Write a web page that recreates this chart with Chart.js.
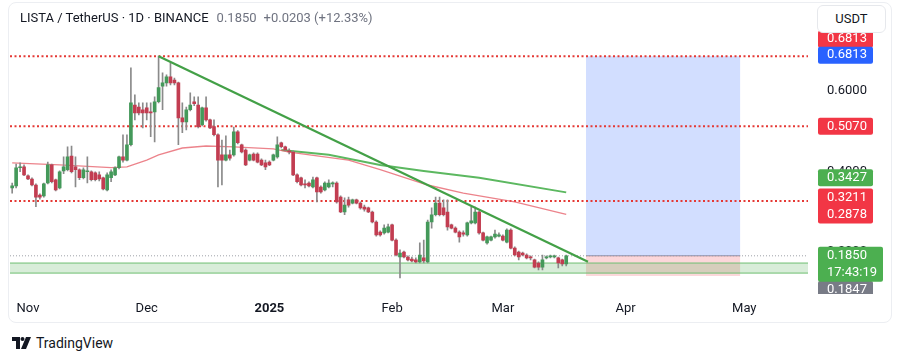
<!DOCTYPE html>
<html>
<head>
<meta charset="utf-8">
<script src="https://cdn.jsdelivr.net/npm/chart.js"></script>
<style>
  html, body { margin: 0; padding: 0; background: #fff; }
  body { width: 900px; height: 362px; position: relative; overflow: hidden; font-family: Roboto, 'Noto Sans', sans-serif; }
  #frame { position: absolute; left: 8px; top: 2px; width: 882px; height: 319px; border: 1px solid #eceef2; border-radius: 8px; }
  /* canvas sits a little higher: Chart.js keeps ~22px free above the plot */
  #wrap { position: absolute; left: 0; top: -22px; width: 900px; height: 347px; }
  #title { position: absolute; left: 20px; top: 10px; font-size: 13px; line-height: 16px; color: #131722; white-space: nowrap; }
  #title .num { color: #6f7380; margin-left: 7px; }
  #unit { position: absolute; left: 817px; top: 5px; width: 69px; height: 28px; box-sizing: border-box; border: 1px solid #e6e8ec; border-radius: 6px; background: #fff; font-size: 13px; color: #131722; text-align: center; line-height: 26px; }
  #brand { position: absolute; left: 12px; top: 335px; font-size: 14px; color: #131722; display: flex; align-items: center; }
  #brand svg { margin-right: 4px; }
</style>
</head>
<body>
<div id="frame"></div>
<div id="wrap"><canvas id="chart" width="900" height="347"></canvas></div>
<div id="title">LISTA / TetherUS · 1D · BINANCE<span class="num" style="margin-left:8px">0.1850</span><span class="num">+0.0203 (+12.33%)</span></div>
<div id="unit">USDT</div>
<div id="brand">
  <svg width="20" height="13" viewBox="0 0 20 13"><path d="M0 0h8v12h-4v-8h-4z" fill="#131722"/><circle cx="10.5" cy="2" r="2" fill="#131722"/><path d="M14 0h5l-5 12h-5z" fill="#131722"/></svg>
  TradingView
</div>
<script>
// daily candles, first one on 28 Oct 2024; x is days counted from 1 Nov 2024
const startDay = -4;
const opens = [
  0.354,0.359,0.404,0.406,0.384,0.376,0.361,0.336,0.334,0.366,
  0.411,0.374,0.354,0.396,0.399,0.433,0.406,0.399,0.379,0.394,
  0.394,0.391,0.386,0.379,0.349,0.379,0.386,0.404,0.431,0.423,
  0.461,0.560,0.555,0.548,0.553,0.543,0.543,0.568,0.607,0.615,
  0.630,0.622,0.615,0.528,0.518,0.548,0.568,0.560,0.511,0.553,
  0.523,0.506,0.486,0.436,0.423,0.436,0.436,0.493,0.461,0.448,
  0.423,0.438,0.438,0.423,0.416,0.418,0.423,0.431,0.466,0.456,
  0.446,0.443,0.386,0.379,0.364,0.366,0.356,0.379,0.356,0.349,
  0.356,0.364,0.366,0.331,0.294,0.324,0.316,0.324,0.316,0.306,
  0.304,0.294,0.269,0.244,0.242,0.244,0.262,0.224,0.182,0.194,
  0.182,0.177,0.175,0.170,0.180,0.170,0.269,0.287,0.316,0.304,
  0.294,0.262,0.254,0.244,0.242,0.237,0.267,0.267,0.294,0.242,
  0.217,0.224,0.232,0.234,0.234,0.219,0.249,0.204,0.194,0.192,
  0.187,0.182,0.175,0.167,0.157,0.180,0.182,0.182,0.180,0.175,0.165
];
const closes = [
  0.359,0.404,0.406,0.386,0.376,0.361,0.331,0.331,0.364,0.411,
  0.369,0.349,0.394,0.406,0.431,0.394,0.399,0.379,0.399,0.396,
  0.374,0.374,0.376,0.351,0.386,0.394,0.404,0.431,0.423,0.461,
  0.565,0.540,0.540,0.540,0.540,0.540,0.568,0.603,0.615,0.630,
  0.615,0.615,0.528,0.518,0.548,0.560,0.563,0.506,0.553,0.523,
  0.503,0.486,0.423,0.423,0.436,0.428,0.493,0.466,0.443,0.411,
  0.436,0.423,0.418,0.411,0.406,0.411,0.436,0.461,0.456,0.448,
  0.443,0.386,0.369,0.361,0.361,0.359,0.374,0.344,0.344,0.366,
  0.366,0.366,0.319,0.294,0.311,0.311,0.324,0.316,0.304,0.301,
  0.294,0.269,0.237,0.237,0.254,0.257,0.224,0.187,0.192,0.182,
  0.175,0.172,0.170,0.187,0.172,0.269,0.287,0.316,0.287,0.287,
  0.257,0.254,0.244,0.232,0.239,0.267,0.272,0.294,0.242,0.224,
  0.232,0.232,0.239,0.237,0.224,0.249,0.204,0.187,0.182,0.187,
  0.180,0.180,0.157,0.157,0.175,0.182,0.185,0.185,0.167,0.165,0.185
];
const highs = [
  0.366,0.413,0.416,0.411,0.386,0.379,0.364,0.339,0.366,0.418,
  0.413,0.376,0.396,0.431,0.456,0.458,0.431,0.401,0.404,0.431,
  0.396,0.394,0.394,0.381,0.391,0.399,0.406,0.433,0.486,0.486,
  0.652,0.585,0.565,0.565,0.565,0.565,0.580,0.6813,0.640,0.635,
  0.665,0.627,0.617,0.565,0.555,0.590,0.580,0.580,0.555,0.580,
  0.525,0.523,0.488,0.473,0.483,0.448,0.505,0.496,0.463,0.451,
  0.438,0.441,0.441,0.426,0.423,0.421,0.438,0.481,0.468,0.458,
  0.451,0.446,0.389,0.381,0.374,0.369,0.381,0.381,0.359,0.369,
  0.374,0.369,0.369,0.334,0.329,0.331,0.326,0.326,0.319,0.311,
  0.306,0.296,0.272,0.247,0.262,0.264,0.264,0.227,0.200,0.197,
  0.185,0.182,0.180,0.217,0.224,0.274,0.304,0.331,0.331,0.324,
  0.324,0.264,0.257,0.247,0.247,0.269,0.306,0.306,0.296,0.244,
  0.234,0.234,0.249,0.242,0.237,0.252,0.252,0.207,0.197,0.194,
  0.190,0.185,0.177,0.170,0.187,0.185,0.187,0.187,0.182,0.177,0.187
];
const lows = [
  0.341,0.354,0.394,0.384,0.374,0.359,0.307,0.326,0.331,0.364,
  0.366,0.346,0.351,0.389,0.396,0.391,0.356,0.374,0.376,0.366,
  0.371,0.371,0.371,0.349,0.346,0.369,0.384,0.401,0.418,0.421,
  0.458,0.523,0.535,0.503,0.523,0.481,0.468,0.565,0.548,0.607,
  0.610,0.610,0.461,0.491,0.498,0.545,0.558,0.503,0.508,0.520,
  0.501,0.483,0.356,0.361,0.421,0.423,0.433,0.463,0.441,0.409,
  0.421,0.421,0.416,0.409,0.399,0.409,0.421,0.428,0.453,0.446,
  0.438,0.384,0.366,0.359,0.354,0.356,0.354,0.319,0.341,0.346,
  0.354,0.356,0.316,0.292,0.287,0.306,0.314,0.314,0.301,0.296,
  0.292,0.267,0.234,0.234,0.239,0.242,0.222,0.185,0.130,0.180,
  0.172,0.170,0.167,0.167,0.167,0.167,0.254,0.284,0.284,0.284,
  0.249,0.252,0.242,0.219,0.234,0.234,0.264,0.264,0.239,0.222,
  0.214,0.222,0.229,0.232,0.222,0.217,0.202,0.185,0.175,0.185,
  0.177,0.175,0.155,0.150,0.150,0.177,0.180,0.180,0.155,0.160,0.160
];

// moving averages, read at a few days
const redMaDays   = [-4, 8, 21, 25, 30, 33, 39, 45, 52, 62, 66, 81, 89, 101, 110, 123, 136];
const redMaValues = [0.416, 0.411, 0.404, 0.406, 0.423, 0.436, 0.453, 0.458, 0.456, 0.451, 0.443, 0.423, 0.399, 0.361, 0.341, 0.319, 0.2878];
const greenMaDays   = [64, 76, 89, 100, 114, 136];
const greenMaValues = [0.448, 0.436, 0.411, 0.396, 0.379, 0.3427];

// drawings
const levels = [0.6813, 0.5070, 0.3211];
const lastPrice = 0.1850;
const trendDays = [33, 141.5];
const trendValues = [0.6813, 0.170];
const supportZone = [0.142, 0.167];
const positionDays = [141, 180];
const target = 0.6813, entry = 0.1850, stop = 0.135;

// axes
const monthDays = [0, 30, 61, 92, 120, 151, 181];
const monthLabels = ['Nov', 'Dec', '2025', 'Feb', 'Mar', 'Apr', 'May'];
const yTicks = [0.2, 0.4, 0.6];
const xMin = -4.55, xMax = 197.1;
const yMin = 0.0801, yMax = 0.809;

const UP = '#44995a', DOWN = '#c23d51', WICK = '#8a8a8a';
const RED = '#f23645';

const priceTags = [
  { value: 0.6813, lines: ['0.6813'], color: RED, shift: -17 },
  { value: 0.6813, lines: ['0.6813'], color: '#2962ff', shift: -1 },
  { value: 0.5070, lines: ['0.5070'], color: RED, shift: 0 },
  { value: 0.3427, lines: ['0.3427'], color: '#4caf50', shift: -14.5 },
  { value: 0.3211, lines: ['0.3211', '0.2878'], color: RED, shift: 5 },
  { value: 0.1847, lines: ['0.1847'], color: '#787b86', shift: 33.5 },
  { value: 0.1850, lines: ['0.1850', '17:43:19'], color: '#4caf50', shift: 8.5, wide: true }
];

const candleX = i => startDay + i;
const hline = (v) => [{ x: xMin, y: v }, { x: xMax, y: v }];
const lineDs = (data, color, width, order, extra) => Object.assign({
  type: 'line', data, borderColor: color, borderWidth: width, pointRadius: 0,
  tension: 0, fill: false, order
}, extra || {});

const tagPlugin = {
  id: 'tags',
  afterDraw(chart) {
    const ctx = chart.ctx;
    const y = chart.scales.y;
    const area = chart.chartArea;
    ctx.save();
    ctx.beginPath();
    ctx.rect(area.right + 2, 0, 90, area.bottom - 4);
    ctx.clip();
    ctx.font = '13px Roboto, sans-serif';
    ctx.textBaseline = 'middle';
    priceTags.forEach(t => {
      const cy = y.getPixelForValue(t.value) + t.shift;
      const h = t.lines.length === 1 ? 17 : 35;
      const w = t.wide ? 65 : 55;
      ctx.fillStyle = t.color;
      ctx.beginPath();
      ctx.roundRect(area.right + 10, cy - h / 2, w, h, 2);
      ctx.fill();
      ctx.fillStyle = '#fff';
      t.lines.forEach((s, k) => {
        const ly = t.lines.length === 1 ? cy : cy - 8.5 + k * 17;
        ctx.fillText(s, area.right + 19, ly);
      });
    });
    ctx.restore();
  }
};

new Chart(document.getElementById('chart'), {
  type: 'bar',
  data: {
    datasets: [
      // trend line
      lineDs(trendDays.map((d, i) => ({ x: d, y: trendValues[i] })), '#43a047', 2.2, 1),
      // candle bodies
      {
        type: 'bar', order: 2, grouped: false, barThickness: 3, minBarLength: 1,
        data: opens.map((o, i) => ({ x: candleX(i), y: [o, closes[i]] })),
        backgroundColor: c => closes[c.dataIndex] >= opens[c.dataIndex] ? UP : DOWN
      },
      // wicks
      {
        type: 'bar', order: 3, grouped: false, barThickness: 1,
        data: lows.map((l, i) => ({ x: candleX(i), y: [l, highs[i]] })),
        backgroundColor: WICK
      },
      // moving averages
      lineDs(redMaDays.map((d, i) => ({ x: d, y: redMaValues[i] })), 'rgba(229,90,100,0.75)', 1.3, 4),
      lineDs(greenMaDays.map((d, i) => ({ x: d, y: greenMaValues[i] })), '#5cb860', 2, 4),
      // horizontal levels
      ...levels.map(v => lineDs(hline(v), '#e53935', 2, 6, { borderDash: [2, 2.5] })),
      lineDs(hline(lastPrice), '#9ea1a9', 1, 6, { borderDash: [1, 2] }),
      // support zone
      lineDs(hline(supportZone[1]), '#6fbf73', 1, 7, { fill: { value: supportZone[0] }, backgroundColor: 'rgba(76,175,80,0.22)' }),
      lineDs(hline(supportZone[0]), '#6fbf73', 1, 7),
      // long position box
      lineDs(positionDays.map(d => ({ x: d, y: target })), 'rgba(0,0,0,0)', 0, 8, { fill: { value: entry }, backgroundColor: 'rgba(41,98,255,0.21)' }),
      lineDs(positionDays.map(d => ({ x: d, y: stop })), 'rgba(0,0,0,0)', 0, 8, { fill: { value: entry }, backgroundColor: 'rgba(242,54,69,0.2)' }),
      lineDs(positionDays.map(d => ({ x: d, y: entry })), '#9598a1', 1, 8)
    ]
  },
  options: {
    responsive: false,
    animation: false,
    devicePixelRatio: 1,
    layout: { autoPadding: false, padding: { left: 10, right: 10, top: 5, bottom: 0 } },
    plugins: { legend: { display: false }, tooltip: { enabled: false } },
    scales: {
      x: {
        type: 'linear', min: xMin, max: xMax, offset: false,
        grid: { display: false, drawTicks: false }, border: { display: false },
        afterBuildTicks: s => { s.ticks = monthDays.map(v => ({ value: v })); },
        afterFit: s => { s.height = 27; },
        ticks: {
          autoSkip: false, maxRotation: 0, padding: 3, color: '#131722',
          font: c => ({ family: 'Roboto, sans-serif', size: 13, weight: c.tick && c.tick.value === 61 ? 'bold' : 'normal' }),
          callback: v => monthLabels[monthDays.indexOf(v)] || ''
        }
      },
      y: {
        type: 'linear', position: 'right', min: yMin, max: yMax,
        grid: { display: false, drawTicks: false }, border: { display: false },
        afterBuildTicks: s => { s.ticks = yTicks.map(v => ({ value: v })); },
        afterFit: s => { s.width = 82; },
        ticks: {
          padding: 19, labelOffset: 2, color: '#131722',
          font: { family: 'Roboto, sans-serif', size: 13 },
          callback: v => v.toFixed(4)
        }
      }
    }
  },
  plugins: [tagPlugin]
});
</script>
</body>
</html>
